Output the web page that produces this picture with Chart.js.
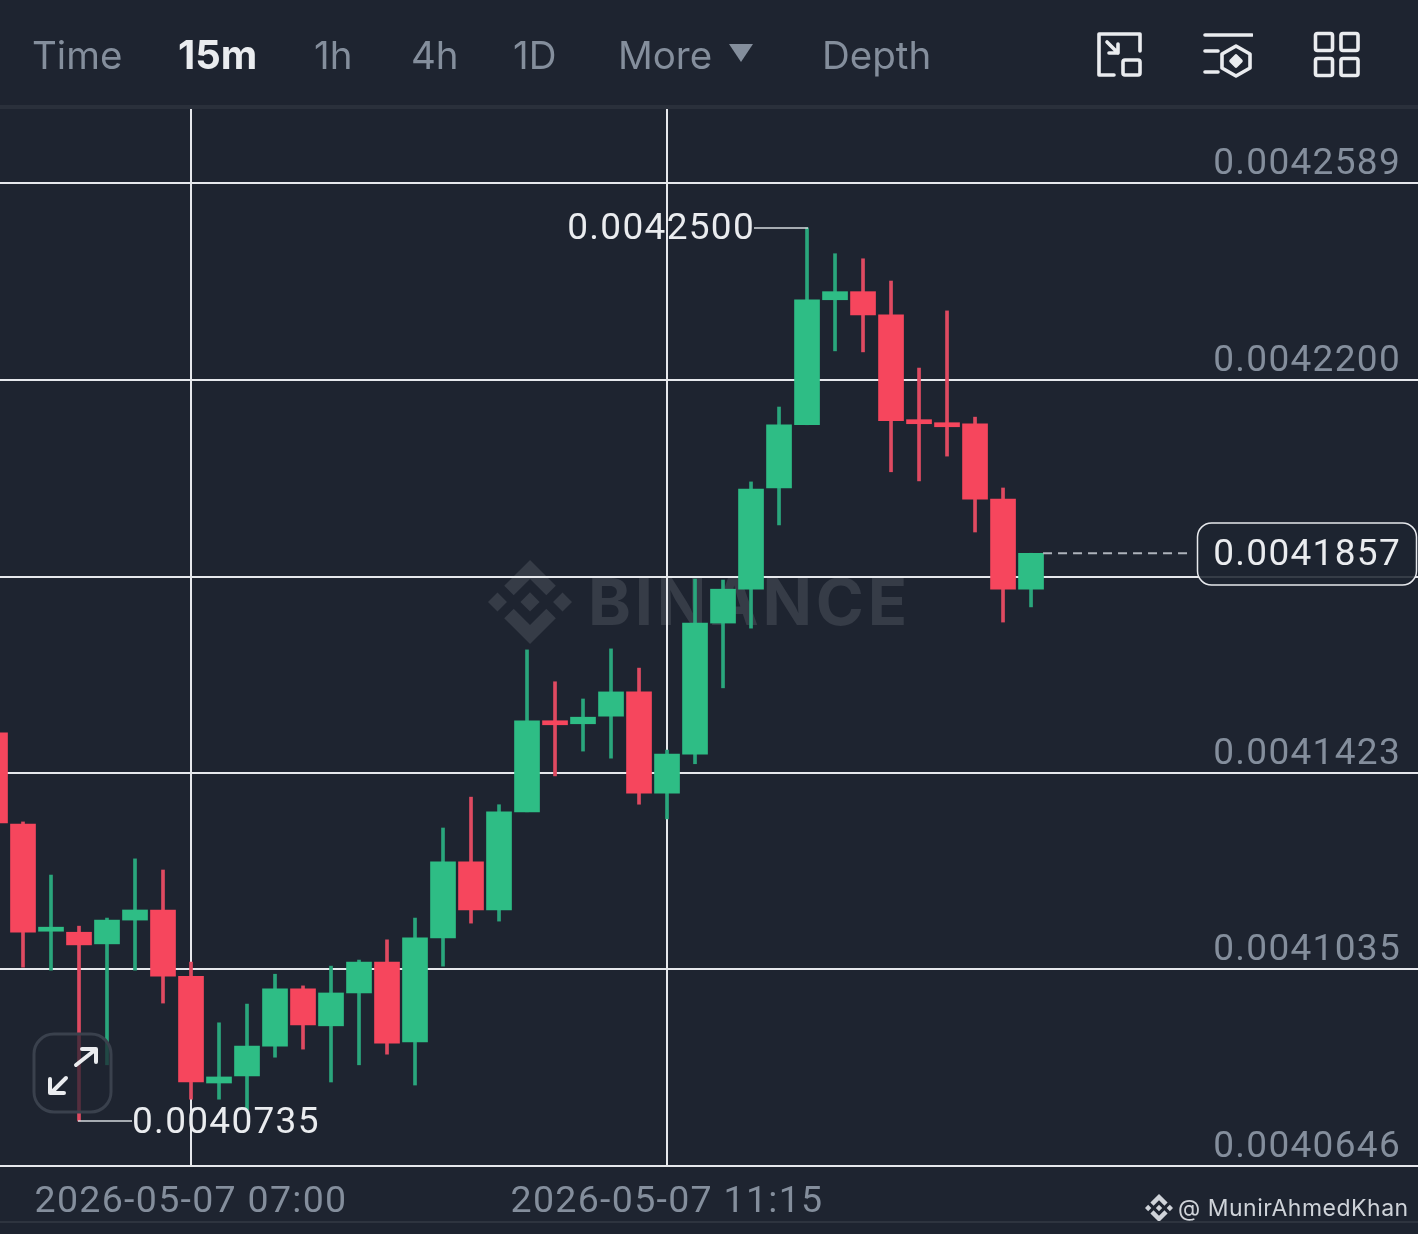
<!DOCTYPE html>
<html>
<head>
<meta charset="utf-8">
<title>15m chart</title>
<script src="https://cdn.jsdelivr.net/npm/chart.js@4"></script>
<style>
  html, body { margin: 0; padding: 0; background: #1e2430; }
  #wrap { position: relative; width: 1418px; height: 1234px; overflow: hidden; background: #1e2430; font-family: Inter, sans-serif; }
  #chart { position: absolute; left: 0; top: 0; z-index: 2; }
  .tab { position: absolute; top: 32px; font-size: 38.5px; line-height: 46px; color: #848e9c; z-index: 3; white-space: nowrap; }
  .tab.on { color: #eaecef; font-weight: 700; font-size: 40px; }
  .icon { position: absolute; z-index: 3; }
  #topline { position: absolute; left: 0; top: 105px; width: 1418px; height: 4px; background: #2a303b; }
  #botline { position: absolute; left: 0; top: 1221px; width: 1418px; height: 2px; background: #2e343f; z-index: 3; }
  #wm { position: absolute; left: 488px; top: 560px; z-index: 1; }
  #wmtext { position: absolute; left: 588px; top: 560px; font: 700 65px/84px Inter, sans-serif; letter-spacing: 3.8px; color: #363c47; z-index: 1; }
  #user { position: absolute; left: 1178px; top: 1191px; font-size: 23px; line-height: 34px; letter-spacing: 0.5px; color: #cfd3d9; z-index: 3; white-space: nowrap; }
</style>
</head>
<body>
<div id="wrap">
  <div id="topline"></div>
  <svg id="wm" width="84" height="84" viewBox="0 0 126.61 126.61"><path fill="#363c47" d="M38.73 53.2l24.59-24.58 24.6 24.6 14.3-14.31L63.32 0 24.43 38.9zM0 63.31l14.3-14.31 14.31 14.31-14.31 14.3zM38.73 73.41l24.59 24.59 24.6-24.6 14.31 14.29-38.9 38.91-38.91-38.88-.02-.02zM98 63.31l14.3-14.31 14.31 14.3-14.3 14.31zM77.83 63.3L63.32 48.78 52.59 59.51l-1.24 1.23-2.54 2.54 14.51 14.5 14.51-14.47z"/></svg>
  <div id="wmtext">BINANCE</div>
  <canvas id="chart" width="1418" height="1234"></canvas>

  <span class="tab" style="left:32px">Time</span>
  <span class="tab on" style="left:178px">15m</span>
  <span class="tab" style="left:314px">1h</span>
  <span class="tab" style="left:411px">4h</span>
  <span class="tab" style="left:513px">1D</span>
  <span class="tab" style="left:618px">More</span>
  <svg class="icon" style="left:728px;top:44px" width="26" height="19"><path d="M1 0H25L13 18Z" fill="#848e9c"/></svg>
  <span class="tab" style="left:822px">Depth</span>

  <svg class="icon" style="left:1096px;top:31px" width="47" height="47" fill="none" stroke="#eaecef" stroke-width="3.6" stroke-linecap="round" stroke-linejoin="round">
    <path d="M18 44H3V3H44V20"/><rect x="27" y="29" width="17" height="15" rx="2"/><path d="M11 11L22 22M13 22H22V13"/>
  </svg>
  <svg class="icon" style="left:1203px;top:31px" width="50" height="47" fill="none" stroke="#eaecef" stroke-width="3.6" stroke-linecap="round" stroke-linejoin="round">
    <path d="M2 4H49M2 20H15M2 41H15"/><path d="M33 15L47 23V37L33 45L19 37V23Z"/><path d="M33 25L38 30L33 35L28 30Z" fill="#eaecef"/>
  </svg>
  <svg class="icon" style="left:1313px;top:31px" width="48" height="47" fill="none" stroke="#eaecef" stroke-width="3.6" stroke-linejoin="round">
    <rect x="2.5" y="2.5" width="17" height="17" rx="2"/><rect x="28" y="2.5" width="17" height="17" rx="2"/>
    <rect x="2.5" y="27.5" width="17" height="17" rx="2"/><rect x="28" y="27.5" width="17" height="17" rx="2"/>
  </svg>

  <svg class="icon" style="left:32px;top:1032px" width="82" height="82" fill="none">
    <rect x="2" y="2" width="77" height="78" rx="20" fill="rgba(30,36,48,0.72)" stroke="#3a414d" stroke-width="3"/>
    <path d="M44 33L63 18M50 17H64V30M34 46L19 61M18 47V61H32" stroke="#eaecef" stroke-width="4" stroke-linecap="round" stroke-linejoin="round"/>
  </svg>

  <svg class="icon" style="left:1145px;top:1194px" width="28" height="28" viewBox="0 0 126.61 126.61"><path fill="#cfd3d9" d="M38.73 53.2l24.59-24.58 24.6 24.6 14.3-14.31L63.32 0 24.43 38.9zM0 63.31l14.3-14.31 14.31 14.31-14.31 14.3zM38.73 73.41l24.59 24.59 24.6-24.6 14.31 14.29-38.9 38.91-38.91-38.88-.02-.02zM98 63.31l14.3-14.31 14.31 14.3-14.3 14.31zM77.83 63.3L63.32 48.78 52.59 59.51l-1.24 1.23-2.54 2.54 14.51 14.5 14.51-14.47z"/></svg>
  <span id="user">@ MunirAhmedKhan</span>
  <div id="botline"></div>
</div>

<script>
// 15m candles, oldest first
const times = ['05:15','05:30','05:45','06:00','06:15','06:30','06:45','07:00','07:15','07:30',
  '07:45','08:00','08:15','08:30','08:45','09:00','09:15','09:30','09:45','10:00',
  '10:15','10:30','10:45','11:00','11:15','11:30','11:45','12:00','12:15','12:30',
  '12:45','13:00','13:15','13:30','13:45','14:00','14:15','14:30'];
const opens = [0.0041502,0.0041322,0.0041110,0.0041108,0.0041085,0.0041132,0.0041152,0.0041021,0.0040810,0.0040824,
  0.0040883,0.0040996,0.0040923,0.0040988,0.0041049,0.0040891,0.0041097,0.0041247,0.0041152,0.0041346,
  0.0041526,0.0041520,0.0041535,0.0041583,0.0041383,0.0041460,0.0041719,0.0041786,0.0041986,0.0042111,
  0.0042358,0.0042374,0.0042328,0.0042121,0.0042115,0.0042113,0.0041964,0.0041786];
const closes = [0.0041324,0.0041108,0.0041118,0.0041083,0.0041132,0.0041152,0.0041021,0.0040812,0.0040822,0.0040883,
  0.0040996,0.0040925,0.0040988,0.0041049,0.0040889,0.0041097,0.0041247,0.0041152,0.0041346,0.0041526,
  0.0041518,0.0041533,0.0041583,0.0041383,0.0041460,0.0041719,0.0041786,0.0041984,0.0042111,0.0042358,
  0.0042374,0.0042328,0.0042119,0.0042113,0.0042107,0.0041964,0.0041786,0.0041857];
const highs = [0.0041502,0.0041326,0.0041221,0.0041120,0.0041136,0.0041253,0.0041231,0.0041049,0.0040929,0.0040966,
  0.0041025,0.0041002,0.0041041,0.0041053,0.0041093,0.0041136,0.0041314,0.0041375,0.0041360,0.0041666,
  0.0041603,0.0041569,0.0041668,0.0041630,0.0041468,0.0041806,0.0041804,0.0041998,0.0042146,0.0042500,
  0.0042449,0.0042439,0.0042395,0.0042223,0.0042336,0.0042126,0.0041986,0.0041857];
const lows = [0.0041324,0.0041039,0.0041033,0.0040735,0.0040846,0.0041033,0.0040968,0.0040778,0.0040778,0.0040757,
  0.0040861,0.0040877,0.0040812,0.0040846,0.0040867,0.0040806,0.0041041,0.0041126,0.0041130,0.0041346,
  0.0041417,0.0041466,0.0041452,0.0041361,0.0041332,0.0041441,0.0041591,0.0041709,0.0041913,0.0042111,
  0.0042257,0.0042255,0.0042018,0.0042000,0.0042049,0.0041899,0.0041721,0.0041751];

const priceTicks = [0.0042589, 0.0042200, 0.0041810, 0.0041423, 0.0041035, 0.0040646];
const hiddenTick = 0.0041810; // sits behind the last price box
const timeTicks = ['07:00', '11:15'];
const dateLabel = '2026-05-07';

const GREEN = '#2ebd85', RED = '#f6465d';
const GREEN_WICK = '#2aa67c', RED_WICK = '#df4a61';
const GRID = '#e6e8ec';
const FONT = 'Roboto, sans-serif'; // digits all the same width, like the app
const TRACKING = '1.3px';

const isUp = i => closes[i] >= opens[i];

const annotate = {
  id: 'annotate',
  beforeDraw(chart) {
    chart.ctx.letterSpacing = TRACKING;
  },
  afterDatasetsDraw(chart) {
    const { ctx, scales: { x, y } } = chart;
    ctx.save();
    ctx.font = '37px ' + FONT;
    ctx.textBaseline = 'middle';

    // highest high label
    const hi = highs.indexOf(Math.max(...highs));
    const hx = x.getPixelForValue(hi), hy = y.getPixelForValue(highs[hi]);
    ctx.strokeStyle = '#d5d8dd';
    ctx.lineWidth = 1.5;
    ctx.beginPath(); ctx.moveTo(hx + 1, hy); ctx.lineTo(hx - 53, hy); ctx.stroke();
    ctx.fillStyle = '#eaecef';
    ctx.textAlign = 'right';
    ctx.fillText(highs[hi].toFixed(7), hx - 52, hy + 2);

    // lowest low label
    const lo = lows.indexOf(Math.min(...lows));
    const lx = x.getPixelForValue(lo), ly = y.getPixelForValue(lows[lo]);
    ctx.beginPath(); ctx.moveTo(lx - 1, ly); ctx.lineTo(lx + 53, ly); ctx.stroke();
    ctx.textAlign = 'left';
    ctx.fillText(lows[lo].toFixed(7), lx + 53, ly + 3);

    // last price dashed line and box
    const last = closes.length - 1;
    const py = y.getPixelForValue(closes[last]);
    ctx.strokeStyle = '#aeb3bb';
    ctx.lineWidth = 2;
    ctx.setLineDash([9, 6]);
    ctx.beginPath(); ctx.moveTo(x.getPixelForValue(last) + 12, py); ctx.lineTo(1192, py); ctx.stroke();
    ctx.setLineDash([]);
    ctx.beginPath();
    ctx.roundRect(1197.5, 523, 219, 62, 14);
    ctx.fillStyle = 'rgba(30,36,48,0.88)';
    ctx.fill();
    ctx.strokeStyle = '#e6e8ec';
    ctx.lineWidth = 1.5;
    ctx.stroke();
    ctx.fillStyle = '#eaecef';
    ctx.textAlign = 'right';
    ctx.fillText(closes[last].toFixed(7), 1401, 556);
    ctx.restore();
  },
  afterDraw(chart) {
    chart.ctx.letterSpacing = '0px';
  }
};

new Chart(document.getElementById('chart').getContext('2d'), {
  type: 'bar',
  data: {
    datasets: [
      {
        label: 'body',
        data: times.map((t, i) => ({ x: i, y: [opens[i], closes[i]] })),
        backgroundColor: times.map((t, i) => isUp(i) ? GREEN : RED),
        barThickness: 25,
        grouped: false,
        borderSkipped: false,
        order: 1
      },
      {
        label: 'wick',
        data: times.map((t, i) => ({ x: i, y: [lows[i], highs[i]] })),
        backgroundColor: times.map((t, i) => isUp(i) ? GREEN_WICK : RED_WICK),
        barThickness: 3,
        grouped: false,
        borderSkipped: false,
        order: 2
      }
    ]
  },
  options: {
    responsive: false,
    devicePixelRatio: 1,
    animation: false,
    layout: { padding: { top: 109, left: 0, right: 0, bottom: 0 } },
    plugins: { legend: { display: false }, tooltip: { enabled: false }, title: { display: false } },
    scales: {
      x: {
        type: 'linear',
        offset: false,
        min: 0.1786,
        max: 50.82,
        afterBuildTicks: axis => { axis.ticks = timeTicks.map(t => ({ value: times.indexOf(t) })); },
        afterFit: axis => { axis.height = 68; },
        grid: { color: GRID, lineWidth: 2, drawTicks: false, offset: false },
        border: { display: false },
        ticks: {
          autoSkip: false,
          maxRotation: 0,
          padding: 14,
          color: '#848e9c',
          font: { family: FONT, size: 37.5 },
          callback: v => dateLabel + ' ' + times[v]
        }
      },
      y: {
        position: 'right',
        min: 0.0040646,
        max: 0.0042735,
        afterBuildTicks: axis => { axis.ticks = priceTicks.map(v => ({ value: v })); },
        afterFit: axis => { axis.width = 0; },
        grid: { color: GRID, lineWidth: 2, drawTicks: false },
        border: { display: false },
        ticks: {
          mirror: true,
          autoSkip: false,
          padding: -17,
          labelOffset: -18,
          color: '#848e9c',
          font: { family: FONT, size: 37 },
          callback: v => v === hiddenTick ? '' : v.toFixed(7)
        }
      }
    }
  },
  plugins: [annotate]
});
</script>
</body>
</html>
